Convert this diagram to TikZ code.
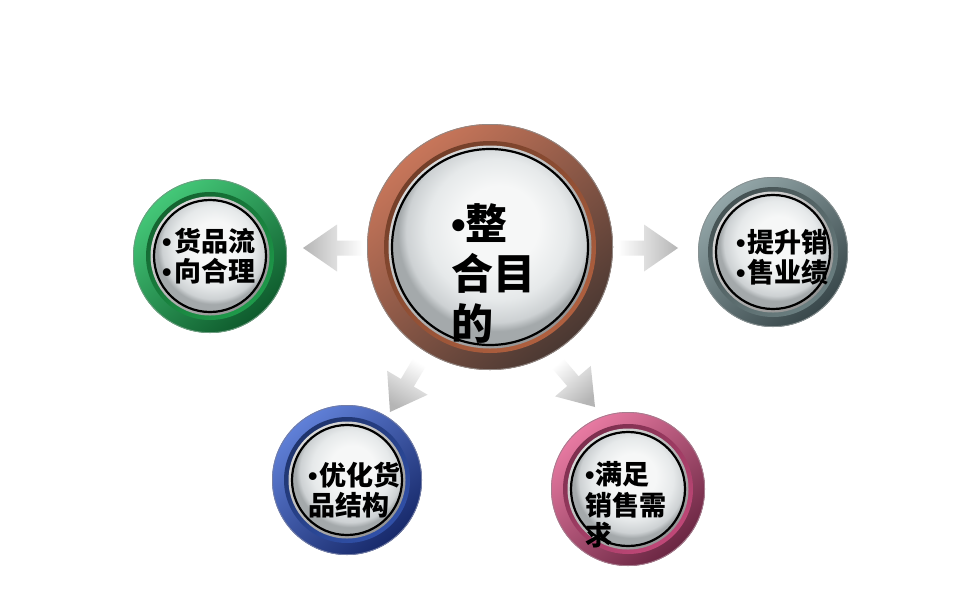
\documentclass[tikz,border=0pt]{standalone}
\usepackage{fontspec}
\newfontfamily\cjk{Noto Sans CJK SC}
\newfontfamily\latn{Liberation Sans}
\newcommand\bul{{\latn\bfseries •}}
\usetikzlibrary{calc}
\definecolor{dA}{HTML}{F6F7F7}
\definecolor{dB}{HTML}{E6E9EA}
\definecolor{dC}{HTML}{CDD1D3}
\definecolor{dD}{HTML}{A4A9AB}
\pgfdeclareradialshading{diskshade}{\pgfpoint{3bp}{7bp}}{color(0bp)=(dA); color(10bp)=(dA); color(18bp)=(dB); color(23bp)=(dC); color(25bp)=(dD); color(50bp)=(dD)}
% ring colours
\definecolor{brL}{HTML}{C8765A}\definecolor{brM}{HTML}{B0603F}\definecolor{brD}{HTML}{4A3832}
\definecolor{grL}{HTML}{44C878}\definecolor{grM}{HTML}{1E9A4A}\definecolor{grD}{HTML}{0E5A2C}
\definecolor{gyL}{HTML}{93A6A8}\definecolor{gyM}{HTML}{6A7E80}\definecolor{gyD}{HTML}{38474A}
\definecolor{blL}{HTML}{6080D8}\definecolor{blM}{HTML}{3050A8}\definecolor{blD}{HTML}{17296A}
\definecolor{pkL}{HTML}{E87AA2}\definecolor{pkM}{HTML}{C04878}\definecolor{pkD}{HTML}{6A2642}
\newcommand\mybutton[6]{%
  \shade[top color=#4, bottom color=#6, shading angle=40] (#1) circle[radius=#2];
  \draw[#6!60, line width=0.8pt] (#1) circle[radius=#2-0.4];
  \shade[top color=#5!65!black, bottom color=#5, shading angle=40] (#1) circle[radius=#3+8];
  \shade[top color=gray!30, bottom color=gray!85, shading angle=40] (#1) circle[radius=#3+3.5];
  \draw[black, line width=2.2pt, shading=diskshade] (#1) circle[radius=#3];
}
\tikzset{
  arrowshape/.style={top color=white, middle color=gray!36, bottom color=gray!58},
  bigtxt/.style={font=\cjk\bfseries\fontsize{42}{50}\selectfont, align=left, anchor=west, inner sep=0pt},
  smalltxt/.style={font=\cjk\bfseries\fontsize{27}{30.5}\selectfont, align=left, anchor=west, inner sep=0pt},
}
\newcommand\myarrow[3]{% tip, canvas angle, shading angle
  \begin{scope}[shift={(#1)}, rotate=#2]
    \shade[arrowshape, shading angle=#3] (0,0) -- (-34,23.5) -- (-34,7.5) -- (-60,7.5) -- (-60,-7.5) -- (-34,-7.5) -- (-34,-23.5) -- cycle;
  \end{scope}}
\begin{document}
\begin{tikzpicture}[x=1pt, y=-1pt]
\useasboundingbox[fill=white] (0,0) rectangle (960,600);
% centres
\coordinate (cC) at (490,247);
\coordinate (cG) at (210,256);
\coordinate (cY) at (773,252);
\coordinate (cB) at (347,480);
\coordinate (cP) at (628,489);
% arrow tips
\coordinate (tL) at (303,248);
\coordinate (tR) at (678,248);
\coordinate (tDL) at (390,412);
\coordinate (tDR) at (595,407);
% arrows
\myarrow{tL}{180}{270}
\myarrow{tR}{0}{90}
\myarrow{tDL}{-120.7}{-30.7}
\myarrow{tDR}{-49.5}{40.5}
% buttons
\mybutton{cC}{123}{98}{brL}{brM}{brD}
\mybutton{cG}{77}{56}{grL}{grM}{grD}
\mybutton{cY}{75}{57}{gyL}{gyM}{gyD}
\mybutton{cB}{75}{55}{blL}{blM}{blD}
\mybutton{cP}{77}{57}{pkL}{pkM}{pkD}
% texts
\node[bigtxt] (tC) at (451,274) {\bul 整\\合目\\的};
\node[smalltxt] (tG) at (162,256) {\bul\hspace{3pt}货品流\\\bul\hspace{3pt}向合理};
\node[smalltxt] (tY) at (736,257) {\bul\hspace{2pt}提升销\\\bul\hspace{2pt}售业绩};
\node[smalltxt] (tB) at (308,490) {\bul\hspace{2pt}优化货\\品结构};
\node[smalltxt] (tP) at (585,505) {\bul\hspace{1pt}满足\\销售需\\求};
\end{tikzpicture}
\end{document}
